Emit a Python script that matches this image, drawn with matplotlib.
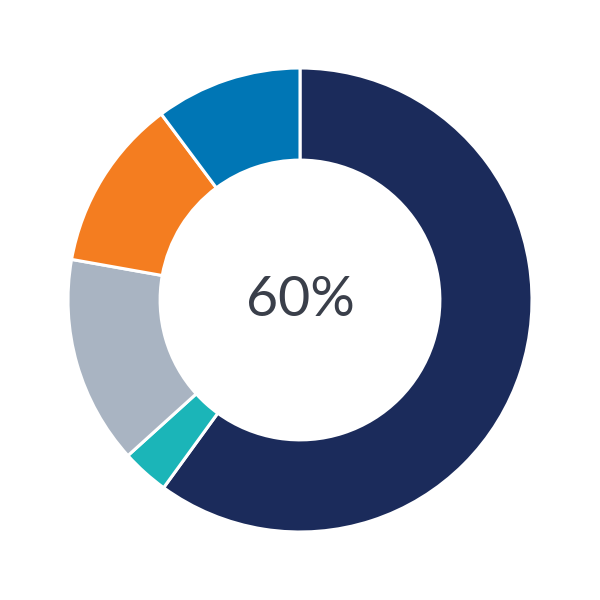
import matplotlib
matplotlib.use("Agg")
import matplotlib.pyplot as plt

labels = ["Navy", "Teal", "Gray", "Orange", "Blue"]
values = [60, 3.3, 14.5, 12, 10.2]
colors = ["#1b2b5b", "#1bb5b8", "#a9b4c2", "#f47d20", "#0076b5"]
center_text = "60%"

fig = plt.figure(figsize=(6, 6), dpi=100)
ax = fig.add_axes([0, 0, 1, 1])
ax.pie(values, colors=colors, startangle=90, counterclock=False, radius=1,
       wedgeprops=dict(width=0.397, edgecolor="white", linewidth=2.2))
lim = 300 / 232
ax.set_xlim(-lim, lim)
ax.set_ylim(-lim, lim)
ax.set_aspect("equal")
ax.axis("off")
ax.text(0, 0, center_text, ha="center", va="center", fontsize=40,
        family=["Lato", "DejaVu Sans"], color="#3a3f4a")
fig.savefig("out.png", dpi=100, facecolor="white")
